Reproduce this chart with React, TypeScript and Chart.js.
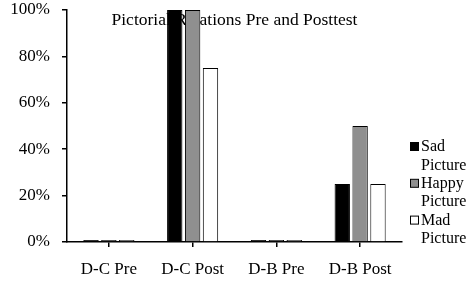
import React, { useEffect, useRef } from "react";
import { Chart, registerables } from "chart.js";

Chart.register(...registerables);

const categories = ["D-C Pre", "D-C Post", "D-B Pre", "D-B Post"];
const sadPicture = [0, 100, 0, 25];
const happyPicture = [0, 100, 0, 50];
const madPicture = [0, 75, 0, 25];
const seriesLabels = ["Sad Picture", "Happy Picture", "Mad Picture"];
const chartTitle = "Pictorial Relations Pre and Posttest";

const FONT = "'Liberation Serif', 'Times New Roman', serif";

const titlePlugin = {
  id: "insideTitle",
  beforeDatasetsDraw(chart: any) {
    const { ctx, chartArea } = chart;
    ctx.save();
    ctx.font = `17.5px ${FONT}`;
    ctx.fillStyle = "#000";
    ctx.textAlign = "center";
    ctx.textBaseline = "middle";
    ctx.fillText(chartTitle, (chartArea.left + chartArea.right) / 2, chartArea.top + 10);
    ctx.restore();
  },
};

const legendPlugin = {
  id: "multiLineLegend",
  afterDraw(chart: any) {
    const { ctx } = chart;
    ctx.save();
    ctx.font = `16px ${FONT}`;
    ctx.textBaseline = "middle";
    ctx.textAlign = "left";
    const x = 410;
    let y = 147;
    const lh = 18.4;
    chart.data.datasets.forEach((ds: any) => {
      const words = String(ds.label).split(" ");
      ctx.fillStyle = ds.backgroundColor;
      ctx.fillRect(x + 0.5, y - 4.5, 8, 8);
      ctx.strokeStyle = "#000";
      ctx.lineWidth = 1;
      ctx.strokeRect(x + 0.5, y - 4.5, 8, 8);
      ctx.fillStyle = "#000";
      words.forEach((w: string) => {
        ctx.fillText(w, x + 11, y);
        y += lh;
      });
    });
    ctx.restore();
  },
};

export default function App() {
  const ref = useRef<HTMLCanvasElement>(null);
  useEffect(() => {
    document.body.style.margin = "0";
    const colors = ["#000000", "#8f8f8f", "#ffffff"];
    const values = [sadPicture, happyPicture, madPicture];
    const chart = new Chart(ref.current!, {
      type: "bar",
      data: {
        labels: categories,
        datasets: seriesLabels.map((l, i) => ({
          label: l,
          data: values[i],
          backgroundColor: colors[i],
          borderColor: "#000",
          borderWidth: 1,
          minBarLength: 2,
          categoryPercentage: 0.64,
          barPercentage: 0.86,
        })),
      },
      options: {
        responsive: false,
        animation: false,
        devicePixelRatio: 1,
        layout: { padding: { top: 10, right: 72, left: 0, bottom: 0 } },
        plugins: {
          legend: { display: false },
          title: { display: false },
          tooltip: { enabled: false },
        },
        scales: {
          x: {
            grid: {
              offset: false,
              drawOnChartArea: false,
              drawTicks: true,
              tickLength: 5,
              color: "#000",
              lineWidth: 1.5,
            },
            border: { display: true, color: "#000", width: 1.5 },
            ticks: { color: "#000", font: { family: FONT, size: 17 }, padding: 12, maxRotation: 0 },
            afterFit(scale: any) {
              scale.height = 47;
              scale.paddingLeft = 0;
              scale.paddingRight = 0;
            },
          },
          y: {
            min: 0,
            max: 100,
            grid: {
              drawOnChartArea: false,
              drawTicks: true,
              tickLength: 5,
              color: "#000",
              lineWidth: 1.5,
            },
            border: { display: true, color: "#000", width: 1.5 },
            ticks: {
              stepSize: 20,
              color: "#000",
              font: { family: FONT, size: 17 },
              padding: 12,
              callback: (v: any) => v + "%",
            },
            afterFit(scale: any) {
              scale.width = 67;
              scale.paddingTop = 0;
              scale.paddingBottom = 0;
            },
          },
        },
      },
      plugins: [titlePlugin, legendPlugin],
    });
    return () => chart.destroy();
  }, []);
  return (
    <div style={{ width: 474, height: 289 }}>
      <canvas ref={ref} width={474} height={289} style={{ display: "block" }} />
    </div>
  );
}
